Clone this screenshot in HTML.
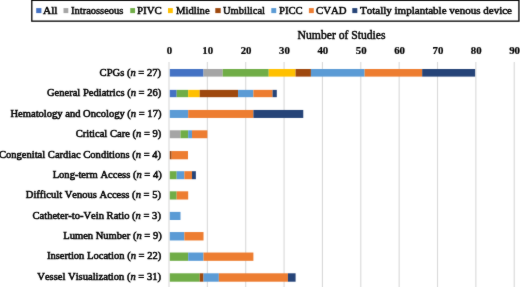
<!DOCTYPE html>
<html><head><meta charset="utf-8"><title>Number of Studies</title>
<style>
html,body{margin:0;padding:0;background:#fff;}
body{width:520px;height:287px;overflow:hidden;position:relative;font-family:"Liberation Serif","Times New Roman",serif;color:#000;}
#c{position:absolute;left:0;top:0;width:520px;height:287px;overflow:hidden;background:#fff;filter:url(#sb);}
#c div{font-kerning:none;font-variant-ligatures:none;white-space:nowrap;}
.l{position:absolute;right:358.7px;font-size:11.0px;line-height:16px;height:16px;transform:scaleX(0.9591);transform-origin:100% 50%;-webkit-text-stroke:0.55px #000;}
.t{position:absolute;top:42.6px;width:30px;margin-left:-15px;text-align:center;font-size:10.8px;font-weight:bold;line-height:14px;-webkit-text-stroke:0.2px #000;}
#ttl{position:absolute;left:241.6px;width:200px;text-align:center;top:28.9px;font-size:11.65px;line-height:14px;-webkit-text-stroke:0.45px #000;}
.k{position:absolute;top:1.5px;font-size:11.0px;line-height:16px;transform-origin:0 50%;-webkit-text-stroke:0.5px #000;}
</style></head><body><div id="c">

<div class="t" style="left:169.40px">0</div>
<div class="t" style="left:207.76px">10</div>
<div class="t" style="left:246.12px">20</div>
<div class="t" style="left:284.48px">30</div>
<div class="t" style="left:322.84px">40</div>
<div class="t" style="left:361.20px">50</div>
<div class="t" style="left:399.56px">60</div>
<div class="t" style="left:437.92px">70</div>
<div class="t" style="left:476.28px">80</div>
<div class="t" style="left:514.64px">90</div>
<div id="ttl">Number of Studies</div>
<div class="l" style="top:64px">CPGs (<em>n</em> = 27)</div>
<div class="l" style="top:84px">General Pediatrics (<em>n</em> = 26)</div>
<div class="l" style="top:105px">Hematology and Oncology (<em>n</em> = 17)</div>
<div class="l" style="top:125px">Critical Care (<em>n</em> = 9)</div>
<div class="l" style="top:146px">Congenital Cardiac Conditions (<em>n</em> = 4)</div>
<div class="l" style="top:166px">Long-term Access (<em>n</em> = 4)</div>
<div class="l" style="top:186px">Difficult Venous Access (<em>n</em> = 5)</div>
<div class="l" style="top:207px">Catheter-to-Vein Ratio (<em>n</em> = 3)</div>
<div class="l" style="top:227px">Lumen Number (<em>n</em> = 9)</div>
<div class="l" style="top:247px">Insertion Location (<em>n</em> = 22)</div>
<div class="l" style="top:268px">Vessel Visualization (<em>n</em> = 31)</div>
<div class="k" style="left:42.90px;transform:scaleX(1.0279)">All</div>
<div class="k" style="left:71.05px;transform:scaleX(0.9529)">Intraosseous</div>
<div class="k" style="left:137.20px;transform:scaleX(0.9875)">PIVC</div>
<div class="k" style="left:175.60px;transform:scaleX(0.9646)">Midline</div>
<div class="k" style="left:222.60px;transform:scaleX(0.9548)">Umbilical</div>
<div class="k" style="left:278.80px;transform:scaleX(0.9670)">PICC</div>
<div class="k" style="left:315.50px;transform:scaleX(0.9785)">CVAD</div>
<div class="k" style="left:360.10px;transform:scaleX(1.0012)">Totally implantable venous device</div>
<svg width="520" height="287" viewBox="0 0 520 287" style="position:absolute;left:0;top:0"><defs><filter id="sb" x="0" y="0" width="100%" height="100%" color-interpolation-filters="sRGB"><feConvolveMatrix order="3" kernelMatrix="1 3 1 3 40 3 1 3 1" divisor="56" edgeMode="duplicate" preserveAlpha="true"/></filter></defs><rect x="168.45" y="62" width="1.1" height="226" fill="#d9d9d9"/><rect x="206.81" y="62" width="1.1" height="226" fill="#d9d9d9"/><rect x="245.17" y="62" width="1.1" height="226" fill="#d9d9d9"/><rect x="283.53" y="62" width="1.1" height="226" fill="#d9d9d9"/><rect x="321.89" y="62" width="1.1" height="226" fill="#d9d9d9"/><rect x="360.25" y="62" width="1.1" height="226" fill="#d9d9d9"/><rect x="398.61" y="62" width="1.1" height="226" fill="#d9d9d9"/><rect x="436.97" y="62" width="1.1" height="226" fill="#d9d9d9"/><rect x="475.33" y="62" width="1.1" height="226" fill="#d9d9d9"/><rect x="513.69" y="62" width="1.1" height="226" fill="#d9d9d9"/><rect x="169.80" y="69.00" width="33.72" height="7.6" fill="#4472c4"/><rect x="203.52" y="69.00" width="19.18" height="7.6" fill="#a5a5a5"/><rect x="222.70" y="69.00" width="46.03" height="7.6" fill="#70ad47"/><rect x="268.74" y="69.00" width="26.85" height="7.6" fill="#ffc000"/><rect x="295.59" y="69.00" width="15.34" height="7.6" fill="#9e480e"/><rect x="310.93" y="69.00" width="53.70" height="7.6" fill="#5b9bd5"/><rect x="364.64" y="69.00" width="57.54" height="7.6" fill="#ed7d31"/><rect x="422.18" y="69.00" width="52.94" height="7.6" fill="#264478"/><rect x="169.80" y="89.87" width="6.87" height="7.3" fill="#4472c4"/><rect x="176.67" y="89.87" width="11.51" height="7.3" fill="#70ad47"/><rect x="188.18" y="89.87" width="11.51" height="7.3" fill="#ffc000"/><rect x="199.69" y="89.87" width="38.36" height="7.3" fill="#9e480e"/><rect x="238.05" y="89.87" width="15.34" height="7.3" fill="#5b9bd5"/><rect x="253.39" y="89.87" width="19.18" height="7.3" fill="#ed7d31"/><rect x="272.57" y="89.87" width="4.22" height="7.3" fill="#264478"/><rect x="169.80" y="109.94" width="18.38" height="8.0" fill="#5b9bd5"/><rect x="188.18" y="109.94" width="65.21" height="8.0" fill="#ed7d31"/><rect x="253.39" y="109.94" width="49.87" height="8.0" fill="#264478"/><rect x="169.80" y="130.31" width="10.71" height="7.9" fill="#a5a5a5"/><rect x="180.51" y="130.31" width="7.67" height="7.9" fill="#70ad47"/><rect x="188.18" y="130.31" width="3.84" height="7.9" fill="#5b9bd5"/><rect x="192.02" y="130.31" width="15.34" height="7.9" fill="#ed7d31"/><rect x="169.80" y="151.08" width="1.89" height="8.2" fill="#9e480e"/><rect x="171.69" y="151.08" width="16.30" height="8.2" fill="#ed7d31"/><rect x="169.80" y="171.20" width="6.87" height="8.0" fill="#70ad47"/><rect x="176.67" y="171.20" width="7.67" height="8.0" fill="#5b9bd5"/><rect x="184.34" y="171.20" width="7.67" height="8.0" fill="#ed7d31"/><rect x="192.02" y="171.20" width="3.84" height="8.0" fill="#264478"/><rect x="169.80" y="191.32" width="6.87" height="8.2" fill="#70ad47"/><rect x="176.67" y="191.32" width="11.51" height="8.2" fill="#ed7d31"/><rect x="169.80" y="211.89" width="10.71" height="8.1" fill="#5b9bd5"/><rect x="169.80" y="232.06" width="14.54" height="8.4" fill="#5b9bd5"/><rect x="184.34" y="232.06" width="19.18" height="8.4" fill="#ed7d31"/><rect x="169.80" y="252.53" width="18.38" height="8.3" fill="#70ad47"/><rect x="188.18" y="252.53" width="15.34" height="8.3" fill="#5b9bd5"/><rect x="203.52" y="252.53" width="49.87" height="8.3" fill="#ed7d31"/><rect x="169.80" y="273.30" width="29.89" height="8.4" fill="#70ad47"/><rect x="199.69" y="273.30" width="3.84" height="8.4" fill="#9e480e"/><rect x="203.52" y="273.30" width="15.34" height="8.4" fill="#5b9bd5"/><rect x="218.87" y="273.30" width="69.05" height="8.4" fill="#ed7d31"/><rect x="287.92" y="273.30" width="7.67" height="8.4" fill="#264478"/><rect x="31.8" y="0.3" width="487.1" height="20.85" fill="none" stroke="#000" stroke-width="1.3"/><rect x="36.2" y="8.1" width="5.2" height="5.0" fill="#4472c4"/><rect x="63.5" y="8.1" width="4.8" height="5.0" fill="#a5a5a5"/><rect x="130.25" y="8.1" width="4.8" height="5.0" fill="#70ad47"/><rect x="168.0" y="8.1" width="4.8" height="5.0" fill="#ffc000"/><rect x="215.3" y="8.1" width="5.4" height="5.0" fill="#9e480e"/><rect x="271.3" y="8.1" width="4.9" height="5.0" fill="#5b9bd5"/><rect x="308.9" y="8.1" width="4.9" height="5.0" fill="#ed7d31"/><rect x="352.3" y="8.1" width="5.0" height="5.0" fill="#264478"/></svg>
</div></body></html>
